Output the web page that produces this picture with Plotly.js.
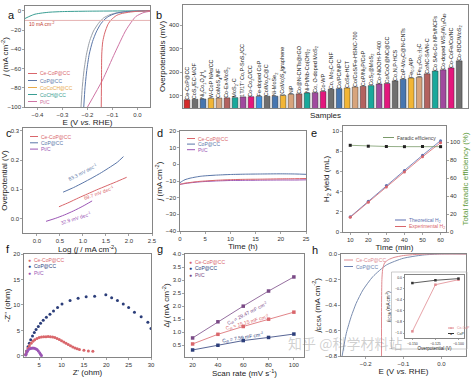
<!DOCTYPE html>
<html><head><meta charset="utf-8">
<script src="https://cdn.plot.ly/plotly-3.0.1.min.js"></script>
<style>html,body{margin:0;padding:0;background:#fff}#chart{width:474px;height:378px}</style>
</head><body><div id="chart"></div>
<script>
// ================= DATA =================
// (a) polarization curves, E (V vs RHE) / j (mA cm-2)
const aSeries = ['Ce-CoP@CC','CoP@CC','CoCoCH@CC','CoCH@CC','Pt/C'];
const aCeCoP_E = [-0.145,-0.144,-0.143,-0.139,-0.131,-0.118,-0.105,-0.085,-0.066,-0.035,0.0,0.05];
const aCeCoP_j = [-100,-70,-45,-32,-23,-14,-9.3,-5,-3,-1.5,-0.5,0];
const aCoP_E = [-0.215,-0.21,-0.203,-0.193,-0.18,-0.165,-0.148,-0.13,-0.11,-0.085,-0.05,0,0.05];
const aCoP_j = [-100,-80,-62,-45,-32,-22,-14,-8.5,-5,-2.5,-1,-0.3,0];
const aCoCoCH_E = [-0.226,-0.221,-0.214,-0.204,-0.191,-0.176,-0.156,-0.136,-0.11,-0.08,-0.04,0,0.05];
const aCoCoCH_j = [-100,-80,-62,-45,-31,-21,-13,-7.5,-4,-2,-0.8,-0.3,0];
const aCoCH_E = [-0.45,-0.43,-0.41,-0.38,-0.35,-0.3,-0.2,-0.1,0.05];
const aCoCH_j = [-8,-5.5,-3.5,-2.2,-1.4,-0.8,-0.4,-0.2,0];
const aPtC_E = [-0.2,-0.14,-0.091,-0.046,-0.007,0.026,0.05];
const aPtC_j = [-100,-72,-44,-20,-6,-1.7,-0.5];
const aRefCurrent = -10;

// (b) overpotential comparison (mV)
const bSamples = ['Ce-CoP@CC','CoS<sub>2</sub>/EC-MOF','Ni<sub>2</sub>Co<sub>1</sub>O<sub>4</sub>H<sub>x</sub>','W-CoP NAs/CC','CoMoS<sub>4</sub>/NF','Co-Ex-MoS<sub>2</sub>','MoS<sub>2</sub>-C','1T/1T\u2032 Co,P-SnS<sub>2</sub>/CC','Co-Co<sub>2</sub>C/CC','Fe-doped CoP','Co/Mo<sub>2</sub>C@C','Ni-MoSe<sub>2</sub>','(CoMo)S<sub>4</sub>/graphene','NiP','Co@N-CNTs@rGO','Ni-Pt/Nb-Co(OH)<sub>2</sub>','Co, O-doped MoS<sub>2</sub>','Co-WP','Co, Mo<sub>2</sub>C-CNF','Co/PC/NPC','CoSe-HCT','Co/CoS/Fe-HSNC-700','CoP/Ni<sub>2</sub>P/CoP','CoS<sub>2</sub>@MoS<sub>2</sub>','Co-NiOOH-P-400','Co/CoO@NC@CC','Co,N,P-HCS','CoP-Mo<sub>2</sub>C@N-CNTs','Fe<sub>0.5</sub>AlP','(Fe<sub>0.3</sub>Co<sub>0.7</sub>)<sub>2</sub>C','CoNC-SA/N-C','Co SAs-Co NPs/NCFs','Co-doped WS<sub>2</sub>/W<sub>18</sub>O<sub>49</sub>','Co-CoFe/Co/NC','Co-BDC/MoS<sub>2</sub>'];
const bOverpotential = [83,85,86,89,90,91,92,95,96,97,98,98,101,106,108,112,113,118,128,130,133,137,140,143,150,152,163,170,175,178,193,205,210,218,248];

// (c) Tafel
const cCoP_logj = [0.57,0.8,1.0,1.2,1.4,1.6,1.75,1.88];
const cCoP_eta = [0.09,0.106,0.122,0.139,0.157,0.177,0.193,0.212];
const cCeCoP_logj = [0.48,0.7,0.9,1.1,1.3,1.5,1.7,1.95];
const cCeCoP_eta = [0.04,0.055,0.07,0.084,0.098,0.111,0.124,0.141];
const cPtC_logj = [0.2,0.4,0.6,0.8,1.0,1.2];
const cPtC_eta = [-0.01,0.0,0.012,0.026,0.042,0.06];
const cTafel = ['83.3','69.7','32.9'];

// (d) stability
const dTime = [0,0.5,1,2,3,4,5,7,10,13,16,20,23,25];
const dCeCoP = [-12,-11.6,-11.3,-10.9,-10.5,-10.2,-10,-9.6,-9.2,-9,-8.9,-8.7,-8.6,-8.5];
const dCoP = [-11,-10,-9.2,-8.3,-7.7,-7.2,-6.9,-6.5,-6.1,-5.9,-5.8,-5.7,-5.8,-6.0];
const dPtC = [-12,-11.8,-11.5,-11.1,-10.8,-10.5,-10.3,-10,-9.7,-9.6,-9.5,-9.4,-9.4,-9.3];

// (e) H2 yield and faradaic efficiency
const eTime = [10,20,30,40,50,60];
const eTheoretical = [1.5,3.05,4.6,6.1,7.6,9.05];
const eExperimental = [1.45,2.95,4.45,5.95,7.45,8.85];
const eFaradaic = [96.5,95.5,95.2,95.0,95.2,95.0];

// (f) Nyquist
const fCeCoP_Zre = [2.0,2.2,2.5,2.8,3.2,3.6,4.0,4.5,5.0,5.5,6.0,6.5,7.0,7.5,8.0,8.5,9.0,9.5,10.0,10.5,11.0,11.5,12.0,12.5,13.0,13.5,14.0,15.0,16.0,17.0];
const fCeCoP_Zim = [0.3,0.9,1.5,2.0,2.5,2.9,3.2,3.45,3.6,3.7,3.75,3.78,3.8,3.78,3.72,3.62,3.45,3.25,3.0,2.75,2.5,2.25,2.0,1.75,1.55,1.4,1.25,1.1,1.0,0.95];
const fCoP_Zre = [2.0,2.2,2.5,2.8,3.1,3.5,3.9,4.3,4.8,5.3,5.9,6.6,7.4,8.2,9.1,10.1,11.9,13.7,15.5,17.4,19.9,21.2,22.5,23.8,25.0,26.3,27.8,29.3,30.0];
const fCoP_Zim = [0.3,1.0,1.8,2.5,3.2,3.9,4.6,5.2,5.8,6.4,7.0,7.6,8.2,8.8,9.5,10.2,10.9,11.3,11.6,11.7,12.0,11.4,10.9,10.2,9.5,8.6,7.7,6.6,5.4];
const fPtC_Zre = [2.0,2.2,2.4,2.7,3.0,3.3,3.6,3.9,4.2,4.5,4.8,5.1,5.3,5.5];
const fPtC_Zim = [0.2,0.7,1.0,1.3,1.45,1.52,1.55,1.52,1.42,1.25,1.0,0.65,0.35,0.1];

// (g) double-layer capacitance
const gScanRate = [20,40,60,80,100];
const gCeCoP = [0.55,0.92,1.22,1.5,1.77];
const gCoP = [0.32,0.5,0.68,0.8,0.93];
const gPtC = [0.78,1.4,2.0,2.58,3.12];
const gCdl = ['15.15','7.59','29.47'];

// (h) ECSA-normalised LSV
const hCoP_E = [-0.262,-0.251,-0.238,-0.225,-0.207,-0.181,-0.145,-0.101,-0.049,0.0,0.065];
const hCoP_j = [-0.8,-0.622,-0.49,-0.387,-0.282,-0.178,-0.086,-0.034,-0.008,0,0];
const hCeCoP_E = [-0.158,-0.158,-0.157,-0.155,-0.15,-0.14,-0.125,-0.10,-0.07,-0.03,0.065];
const hCeCoP_j = [-0.8,-0.4,-0.2,-0.12,-0.07,-0.045,-0.027,-0.012,-0.004,0,0];
const hInsetEta = [-0.15,-0.125,-0.1];
const hInsetCeCoP = [-0.97,-0.13,-0.04];
const hInsetCoP = [-0.1,-0.05,-0.02];

// ================= STYLE / HELPERS =================
const W = 474, H = 378;
const px = x => x / W, py = y => 1 - y / H;
const dX = (a, b) => [a / W, b / W];
const dY = (top, bot) => [1 - bot / H, 1 - top / H];

const RED = '#d9666b', BLUE = '#5a76a8', NAVY = '#2c3e7a', PURPLE = '#9b55b5',
      ORANGE = '#e8a94a', TEAL = '#3a9e93', MAGENTA = '#cf74a4', DKPURPLE = '#7a4a86',
      GREEN = '#5e9a3a';
const barPalette = ['#6f6f6f','#4776b0','#f2b535','#d7a47c','#b3625f','#19a89b','#a04a9e','#e3177d'];
const barColors = bOverpotential.map((v, i) => i === 0 ? '#d42a2a' : (i === 9 ? '#3b8fe0' : barPalette[(i - 1 - (i > 9 ? 1 : 0)) % 8]));

function axis(extra) {
  return Object.assign({showline: true, linecolor: '#666', linewidth: 0.8, mirror: true,
    ticks: 'outside', ticklen: 2, tickwidth: 0.6, tickcolor: '#666', showgrid: false,
    zeroline: false, tickfont: {size: 6, color: '#333'}, fixedrange: true}, extra);
}
function ttl(text, standoff, extra) {
  return Object.assign({text: text, font: {size: 8, color: '#222'}, standoff: standoff}, extra || {});
}

const traces = [];
function lineTrace(x, y, xa, ya, color, width, shape) {
  traces.push({type: 'scatter', mode: 'lines', x: x, y: y, xaxis: xa, yaxis: ya,
    line: {color: color, width: width || 1, shape: shape || 'spline', smoothing: 0.6}, hoverinfo: 'skip'});
}
function markTrace(x, y, xa, ya, color, size, symbol, withLine) {
  traces.push({type: 'scatter', mode: withLine ? 'lines+markers' : 'markers', x: x, y: y, xaxis: xa, yaxis: ya,
    marker: {color: color, size: size, symbol: symbol || 'circle'}, line: {color: color, width: 0.8}, hoverinfo: 'skip'});
}

const annotations = [], shapes = [];
function legend(items, x, y, dyPx, lenPx, fs, kind) {
  items.forEach((it, i) => {
    const yy = y + i * dyPx;
    if (kind === 'line' || kind === 'linemarker') {
      shapes.push({type: 'line', xref: 'paper', yref: 'paper', x0: px(x), x1: px(x + lenPx), y0: py(yy), y1: py(yy),
        line: {color: it.color, width: 1}});
    }
    if (kind === 'marker' || kind === 'linemarker') {
      annotations.push({xref: 'paper', yref: 'paper', x: px(x + lenPx / 2), y: py(yy), text: it.sym || '\u25CF',
        showarrow: false, font: {size: fs, color: it.color}, xanchor: 'center', yanchor: 'middle', borderpad: 0});
    }
    annotations.push({xref: 'paper', yref: 'paper', x: px(x + lenPx + 1.5), y: py(yy), text: it.name, showarrow: false,
      font: {size: fs, color: it.textColor || it.color}, xanchor: 'left', yanchor: 'middle', borderpad: 0});
  });
}
function note(xref, yref, x, y, text, color, size, angle) {
  annotations.push({xref: xref, yref: yref, x: x, y: y, text: text, showarrow: false,
    font: {size: size, color: color}, textangle: angle || 0, borderpad: 0});
}

// ================= TRACES =================
// (a)
shapes.push({type: 'line', xref: 'x domain', yref: 'y', x0: 0, x1: 1, y0: aRefCurrent, y1: aRefCurrent, line: {color: '#e6b3b3', width: 1}});
lineTrace(aCoCH_E, aCoCH_j, 'x', 'y', TEAL, 1);
lineTrace(aCoCoCH_E, aCoCoCH_j, 'x', 'y', '#9aa0a8', 1);
lineTrace(aCoP_E, aCoP_j, 'x', 'y', BLUE, 1);
lineTrace(aPtC_E, aPtC_j, 'x', 'y', MAGENTA, 1);
lineTrace(aCeCoP_E, aCeCoP_j, 'x', 'y', RED, 1);
// (b)
traces.push({type: 'bar', x: bSamples, y: bOverpotential, xaxis: 'x2', yaxis: 'y2', width: 0.72,
  marker: {color: barColors, line: {color: '#333', width: 0.5}},
  text: bSamples, textposition: 'outside', textangle: -90, constraintext: 'none', cliponaxis: false,
  textfont: {size: 5.5, color: '#222'}, hoverinfo: 'skip'});
// (c)
lineTrace(cCoP_logj, cCoP_eta, 'x3', 'y3', BLUE, 1);
lineTrace(cCeCoP_logj, cCeCoP_eta, 'x3', 'y3', RED, 1);
lineTrace(cPtC_logj, cPtC_eta, 'x3', 'y3', PURPLE, 1);
// (d)
lineTrace(dTime, dPtC, 'x4', 'y4', PURPLE, 1);
lineTrace(dTime, dCeCoP, 'x4', 'y4', RED, 1);
lineTrace(dTime, dCoP, 'x4', 'y4', BLUE, 1);
// (e)
markTrace(eTime, eTheoretical, 'x5', 'y5', '#5c6fb0', 3, 'circle', true);
markTrace(eTime, eExperimental, 'x5', 'y5', RED, 3, 'circle', true);
traces.push({type: 'scatter', mode: 'lines+markers', x: eTime, y: eFaradaic, xaxis: 'x5', yaxis: 'y6',
  line: {color: '#7a9a6a', width: 0.8}, marker: {color: '#222', size: 3, symbol: 'square'}, hoverinfo: 'skip'});
// (f)
markTrace(fCoP_Zre, fCoP_Zim, 'x6', 'y7', NAVY, 3);
markTrace(fCeCoP_Zre, fCeCoP_Zim, 'x6', 'y7', RED, 3);
markTrace(fPtC_Zre, fPtC_Zim, 'x6', 'y7', PURPLE, 3);
// (g)
markTrace(gScanRate, gPtC, 'x7', 'y8', DKPURPLE, 3.5, 'square', true);
markTrace(gScanRate, gCeCoP, 'x7', 'y8', RED, 3.5, 'square', true);
markTrace(gScanRate, gCoP, 'x7', 'y8', NAVY, 3.5, 'square', true);
// (h)
lineTrace(hCoP_E, hCoP_j, 'x8', 'y9', '#7a8db0', 1);
lineTrace(hCeCoP_E, hCeCoP_j, 'x8', 'y9', '#e08a90', 1);
markTrace(hInsetEta, hInsetCeCoP, 'x9', 'y10', '#e08a90', 2.5, 'square', true);
markTrace(hInsetEta, hInsetCoP, 'x9', 'y10', '#333', 2.5, 'square', true);

// ================= ANNOTATIONS / LEGENDS =================
const letters = [['a', 7, 8], ['b', 159, 8], ['c', 5, 133], ['d', 156, 133], ['e', 314, 133], ['f', 5, 256], ['g', 156, 256], ['h', 315, 257]];
letters.forEach(l => note('paper', 'paper', px(l[1]), py(l[2]), l[0], '#111', 11, 0));

note('x', 'y', -0.385, -14, '10 mA cm<sup>-2</sup>', '#c0392b', 5, 0);

legend([{name: aSeries[0], color: RED}, {name: aSeries[1], color: BLUE}, {name: aSeries[2], color: ORANGE},
        {name: aSeries[3], color: TEAL}, {name: aSeries[4], color: MAGENTA}], 28, 73.5, 7, 9, 5, 'line');

note('x3', 'y3', 1.0, 0.158, cTafel[0] + ' mV dec<sup>-1</sup>', BLUE, 5, -27);
note('x3', 'y3', 1.33, 0.088, cTafel[1] + ' mV dec<sup>-1</sup>', RED, 5, -20);
note('x3', 'y3', 0.85, 0.003, cTafel[2] + ' mV dec<sup>-1</sup>', PURPLE, 5, -17);
legend([{name: 'Ce-CoP@CC', color: RED}, {name: 'CoP@CC', color: BLUE}, {name: 'Pt/C', color: PURPLE}], 30, 136.5, 6.3, 8, 5, 'line');

legend([{name: 'Ce-CoP@CC', color: RED}, {name: 'CoP@CC', color: BLUE}, {name: 'Pt/C', color: PURPLE}], 187, 138.5, 5.6, 8, 5, 'line');

legend([{name: 'Faradic efficiency', color: '#7a9a6a', textColor: '#444'}], 383, 137.5, 6, 11, 5, 'line');
legend([{name: 'Theoretical H<sub>2</sub>', color: '#5c6fb0'}, {name: 'Experimental H<sub>2</sub>', color: RED}], 395, 220, 6.5, 11, 5, 'line');

legend([{name: 'Ce-CoP@CC', color: RED}, {name: 'CoP@CC', color: NAVY}, {name: 'Pt/C', color: PURPLE}], 27, 260, 6.3, 4, 5, 'marker');
legend([{name: 'Ce-CoP@CC', color: RED}, {name: 'CoP@CC', color: NAVY}, {name: 'Pt/C', color: DKPURPLE}], 188, 261.5, 6.5, 4, 5, 'marker');
note('x7', 'y8', 63, 1.72, 'C<sub>dl</sub> = ' + gCdl[2] + ' mF cm<sup>-2</sup>', DKPURPLE, 5, -27);
note('x7', 'y8', 63, 1.38, 'C<sub>dl</sub> = ' + gCdl[0] + ' mF cm<sup>-2</sup>', RED, 5, -16);
note('x7', 'y8', 60, 0.79, 'C<sub>dl</sub> = ' + gCdl[1] + ' mF cm<sup>-2</sup>', NAVY, 5, -9);

legend([{name: 'Ce-CoP@CC', color: '#e08a90'}, {name: 'CoP@CC', color: '#6a7fb0'}], 344, 260, 6.5, 9, 5, 'line');
shapes.push({type: 'rect', xref: 'paper', yref: 'paper', x0: px(391.5), x1: px(467), y0: py(349), y1: py(272), line: {color: '#aaa', width: 0.6}});
legend([{name: 'Ce-CoP', color: '#e08a90'}, {name: 'CoP', color: '#333'}], 448, 328, 5.5, 6, 3.5, 'linemarker');

annotations.push({xref: 'paper', yref: 'paper', x: px(404), y: py(355), text: '\u77e5\u4e4e @\u79d1\u5b66\u6750\u6599\u7ad9', showarrow: false,
  font: {size: 14, color: 'rgba(120,120,120,0.35)', family: 'Noto Sans CJK SC, sans-serif'}});

// ================= LAYOUT =================
const Ej = 'E (V <i>vs.</i> RHE)';
const jUnit = '<i>j</i> (mA cm<sup>-2</sup>)';
const layout = {
  width: W, height: H, margin: {l: 0, r: 0, t: 0, b: 0}, showlegend: false,
  paper_bgcolor: '#fff', plot_bgcolor: '#fff',
  font: {family: 'Liberation Sans, Arial, sans-serif', size: 6, color: '#333'},
  xaxis: axis({domain: dX(25, 150), range: [-0.45, 0.05], anchor: 'y', tickvals: [-0.4, -0.3, -0.2, -0.1, 0], tickformat: '.1f', title: ttl(Ej, 1)}),
  yaxis: axis({domain: dY(6, 107), range: [-100, 5], anchor: 'x', tickvals: [0, -20, -40, -60, -80, -100], title: ttl(jUnit, 1)}),
  xaxis2: axis({domain: dX(183, 468), range: [-0.5, 35.1], anchor: 'y2', type: 'category', showticklabels: false, ticks: '', title: ttl('Samples', 4)}),
  yaxis2: axis({domain: dY(5, 108), range: [48, 485], anchor: 'x2', tickvals: [100, 200, 300, 400], title: ttl('Overpotentials (mV)', 2)}),
  xaxis3: axis({domain: dX(23, 152), range: [-0.3, 2.5], anchor: 'y3', tickvals: [0, 0.5, 1, 1.5, 2, 2.5], tickformat: '.1f', title: ttl('Log (<i>j</i> / mA cm<sup>-2</sup>)', 1)}),
  yaxis3: axis({domain: dY(128, 233), range: [-0.05, 0.31], anchor: 'x3', tickvals: [0, 0.1, 0.2, 0.3], tickformat: '.1f', title: ttl('Overpotential (V)', 1)}),
  xaxis4: axis({domain: dX(180, 306), range: [0, 25], anchor: 'y4', dtick: 5, title: ttl('Time (h)', 1)}),
  yaxis4: axis({domain: dY(131, 231), range: [-40, 20], anchor: 'x4', dtick: 10, title: ttl(jUnit, 1)}),
  xaxis5: axis({domain: dX(343, 446), range: [6, 63], anchor: 'y5', tickvals: [10, 20, 30, 40, 50, 60], title: ttl('Time (min)', 1)}),
  yaxis5: axis({domain: dY(126, 232), range: [0, 10.5], anchor: 'x5', dtick: 2, mirror: false, title: ttl('H<sub>2</sub> yield (mL)', 1)}),
  yaxis6: axis({range: [0, 118], overlaying: 'y5', side: 'right', anchor: 'x5', tickvals: [0, 20, 40, 60, 80, 100], mirror: false,
    title: ttl('Total faradic efficiency (%)', 1, {font: {size: 8, color: GREEN}})}),
  xaxis6: axis({domain: dX(24, 151), range: [1.6, 30], anchor: 'y7', dtick: 5, title: ttl("Z' (ohm)", 1)}),
  yaxis7: axis({domain: dY(254, 357), range: [-0.2, 20], anchor: 'x6', dtick: 5, title: ttl("-Z'' (ohm)", 1)}),
  xaxis7: axis({domain: dX(185, 304), range: [14, 108], anchor: 'y8', tickvals: [20, 40, 60, 80, 100], title: ttl('Scan rate (mV s<sup>-1</sup>)', 1)}),
  yaxis8: axis({domain: dY(254, 357), range: [0.05, 4.0], anchor: 'x7', tickvals: [0.5, 1, 1.5, 2, 2.5, 3, 3.5, 4], tickformat: '.1f', title: ttl('\u0394<i>j</i> (mA cm<sup>-2</sup>)', 1)}),
  xaxis8: axis({domain: dX(341, 466), range: [-0.265, 0.065], anchor: 'y9', tickvals: [-0.2, -0.1, 0], tickformat: '.1f', title: ttl(Ej, 1)}),
  yaxis9: axis({domain: dY(254, 356), range: [-0.8, 0], anchor: 'x8', tickvals: [0, -0.2, -0.4, -0.6, -0.8], tickformat: '.1f', title: ttl('<i>j</i><sub>ECSA</sub> (mA cm<sup>-2</sup>)', 3)}),
  xaxis9: axis({domain: dX(405, 464), range: [-0.158, -0.094], anchor: 'y10', tickvals: [-0.15, -0.125, -0.1], tickformat: '.3f', ticklen: 1.5,
    tickfont: {size: 3.5, color: '#333'}, title: {text: 'Overpotential (V)', font: {size: 4.5, color: '#222'}, standoff: 1}}),
  yaxis10: axis({domain: dY(275, 338), range: [-1.09, 0.045], anchor: 'x9', tickvals: [0, -0.2, -0.4, -0.6, -0.8, -1.0], tickformat: '.1f', ticklen: 1.5,
    tickfont: {size: 3.5, color: '#333'}, title: {text: '<i>j</i><sub>ECSA</sub> (mA cm<sup>-2</sup>)', font: {size: 4.5, color: '#222'}, standoff: 4}}),
  annotations: annotations, shapes: shapes
};

Plotly.newPlot('chart', traces, layout, {staticPlot: true, displayModeBar: false});
</script>
</body></html>
